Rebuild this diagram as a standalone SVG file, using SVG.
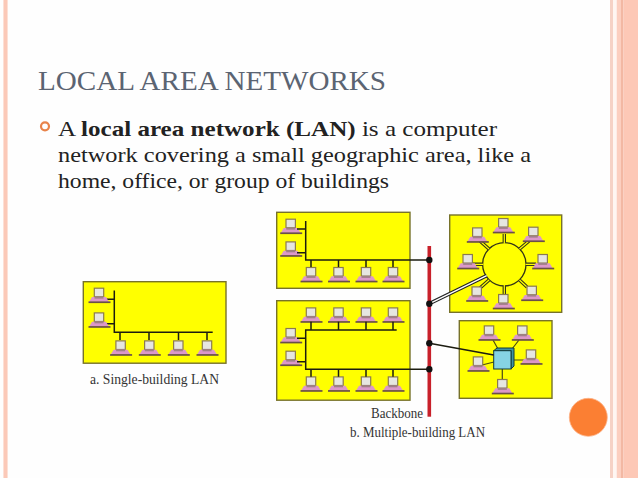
<svg xmlns="http://www.w3.org/2000/svg" xmlns:xlink="http://www.w3.org/1999/xlink" width="638" height="478" viewBox="0 0 638 478">
<style>
.panel{fill:#ffff00;stroke:#77722a;stroke-width:1.4}
.wire{fill:none;stroke:#1c1c10;stroke-width:1.5}
.thin{fill:none;stroke:#4a4a14;stroke-width:1.2}
.dot{fill:#111}
.dbl{fill:none;stroke:#33331a;stroke-width:3.4}
.dblin{fill:none;stroke:#ffff00;stroke-width:1.2}
.lbl{font-family:"Liberation Serif",serif;font-size:14.5px;fill:#333}
.body{font-family:"Liberation Serif",serif;font-size:22px;fill:#222}
</style>
<defs>
<g id="pc">
<rect x="-4.7" y="0.2" width="9.4" height="8.6" fill="#e6e6e0" stroke="#8a7a50" stroke-width="1.2"/>
<path d="M-7 9H7L10 14H-10Z" fill="#dc98c8"/>
<rect x="-4.5" y="8.6" width="9" height="2" fill="#a08088"/>
<rect x="-10.5" y="13.4" width="22" height="1.7" fill="#6a5048"/>
</g>
</defs>
<rect width="638" height="478" fill="#fefefe"/>
<g id="decor">
<rect x="3" y="0" width="5" height="478" fill="#fde0d6"/>
<rect x="4" y="0" width="3" height="478" fill="#fbc9b8"/>
<rect x="610" y="0" width="3" height="478" fill="#f6d2c6"/>
<rect x="613" y="0" width="3.7" height="478" fill="#fff6f2"/>
<rect x="616.7" y="0" width="4.3" height="478" fill="#fccfc0"/>
<rect x="621" y="0" width="2.5" height="478" fill="#f3b8a3"/>
<rect x="623.5" y="0" width="14.5" height="478" fill="#fdc8b6"/>
<circle cx="588.3" cy="417.3" r="19" fill="#fb7f33" stroke="#fcb48a" stroke-width="0.8"/>
</g>
<text id="title" x="38" y="90" font-family="Liberation Serif, serif" font-size="27.5" fill="#5b6472" textLength="348" lengthAdjust="spacingAndGlyphs">LOCAL AREA NETWORKS</text>
<g id="bullet-text">
<circle cx="45" cy="126.3" r="4" fill="none" stroke="#e8834a" stroke-width="2.2"/>
<text class="body" x="58" y="136" textLength="439" lengthAdjust="spacingAndGlyphs">A <tspan font-weight="bold">local area network (LAN)</tspan> is a computer</text>
<text class="body" x="58" y="162" textLength="473" lengthAdjust="spacingAndGlyphs">network covering a small geographic area, like a</text>
<text class="body" x="58" y="188" textLength="331" lengthAdjust="spacingAndGlyphs">home, office, or group of buildings</text>
</g>
<g id="panel-a">
<rect class="panel" x="83.3" y="281.7" width="142.7" height="81.5"/>
<path class="wire" d="M114.3 290.6V332.3H212.7M105 299.3H114.3M105 323.7H114.3M120 332.3V340M149 332.3V340M178.5 332.3V340M207 332.3V340"/>
<use href="#pc" x="99" y="288"/><use href="#pc" x="99" y="312.7"/>
<use href="#pc" x="120.6" y="340.7"/><use href="#pc" x="149.3" y="340.7"/><use href="#pc" x="178.3" y="340.7"/><use href="#pc" x="207" y="340.7"/>
<text class="lbl" x="90" y="384" textLength="129" lengthAdjust="spacingAndGlyphs">a. Single-building LAN</text>
</g>
<g id="panel-b1">
<rect class="panel" x="276.7" y="212.3" width="133.3" height="76"/>
<use href="#pc" x="290.7" y="219"/><use href="#pc" x="290.7" y="241.7"/>
<use href="#pc" x="311" y="267.3"/><use href="#pc" x="338.5" y="267.3"/><use href="#pc" x="366" y="267.3"/><use href="#pc" x="393" y="267.3"/>
</g>
<g id="panel-b2">
<rect class="panel" x="276.7" y="300.7" width="133.3" height="99.5"/>
<use href="#pc" x="311" y="307.7"/><use href="#pc" x="338.5" y="307.7"/><use href="#pc" x="366" y="307.7"/><use href="#pc" x="393" y="307.7"/>
<use href="#pc" x="290.7" y="328.3"/><use href="#pc" x="290.7" y="351"/>
<use href="#pc" x="311" y="376.7"/><use href="#pc" x="338.5" y="376.7"/><use href="#pc" x="366" y="376.7"/><use href="#pc" x="393" y="376.7"/>
</g>
<g id="panel-ring">
<rect class="panel" x="449.7" y="215" width="112" height="97.3"/>
<circle cx="504.3" cy="264.3" r="21.7" fill="#ffff00" stroke="#33331a" stroke-width="1.3"/>
<path class="dbl" d="M504.3 242.6V234M489 249L480 241M519.5 249L529 241M482.6 264.3H472M526 264.3H536M489 280L480 288M519.5 280L527 287M504.3 286V295"/>
<path class="dblin" d="M504.3 243.5V234M489 249L480 241M519.5 249L529 241M483 264.3H472M525.6 264.3H536M489 280L480 288M519.5 280L527 287M504.3 285V295"/>
<use href="#pc" x="503.3" y="218.3"/><use href="#pc" x="477.3" y="227.7"/><use href="#pc" x="533.3" y="227"/>
<use href="#pc" x="467.7" y="254.3"/><use href="#pc" x="542.7" y="254.3"/>
<use href="#pc" x="476.7" y="286.7"/><use href="#pc" x="503.3" y="294.3"/><use href="#pc" x="531.7" y="286"/>
</g>
<g id="panel-star">
<rect class="panel" x="459.3" y="320.7" width="92.7" height="77.6"/>
<path class="thin" d="M493 340L498 349M519 340L512 349M514 360H526M482 365L494 362M502.3 369V380"/>
<use href="#pc" x="489" y="325.7"/><use href="#pc" x="522.3" y="325.7"/><use href="#pc" x="531" y="349.7"/><use href="#pc" x="478" y="356.7"/><use href="#pc" x="502.3" y="379.3"/>
<g id="hub" stroke="#123a3a" stroke-width="1">
<path d="M493.7 350.7L497 348H514V366L511 369V350.7Z" fill="#3f93a3"/>
<rect x="493.7" y="350.7" width="17.3" height="18.3" fill="#86d3e4"/>
</g>
</g>
<g id="connectors">
<path class="wire" d="M305.7 221V260H429.3M297 229H305.7M297 252.7H305.7M311 260V267M338.5 260V267M366 260V267M393 260V267"/>
<path class="wire" d="M396.7 330H305.7V369.3H429.3M297 338.3H305.7M297 361.7H305.7M311 321.7V330M338.5 321.7V330M366 321.7V330M393 321.7V330M311 369.3V376.7M338.5 369.3V376.7M366 369.3V376.7M393 369.3V376.7"/>
<rect x="427.5" y="246" width="3.6" height="170.7" fill="#c8202a"/>
<path d="M429.3 303.7L486.7 275.7" fill="none" stroke="#222" stroke-width="3.6"/>
<path d="M431 302.9L486.7 275.7" fill="none" stroke="#fff" stroke-width="1.4"/>
<path class="wire" d="M429.3 343.3L493.7 355"/>
<circle class="dot" cx="429.3" cy="260" r="3.2"/><circle class="dot" cx="429.3" cy="303.7" r="3.2"/><circle class="dot" cx="429.3" cy="343.3" r="3.2"/><circle class="dot" cx="429.3" cy="369.3" r="3.2"/>
</g>
<text class="lbl" x="371" y="418" textLength="52" lengthAdjust="spacingAndGlyphs">Backbone</text>
<text class="lbl" x="350" y="436.5" textLength="135" lengthAdjust="spacingAndGlyphs">b. Multiple-building LAN</text>
</svg>
